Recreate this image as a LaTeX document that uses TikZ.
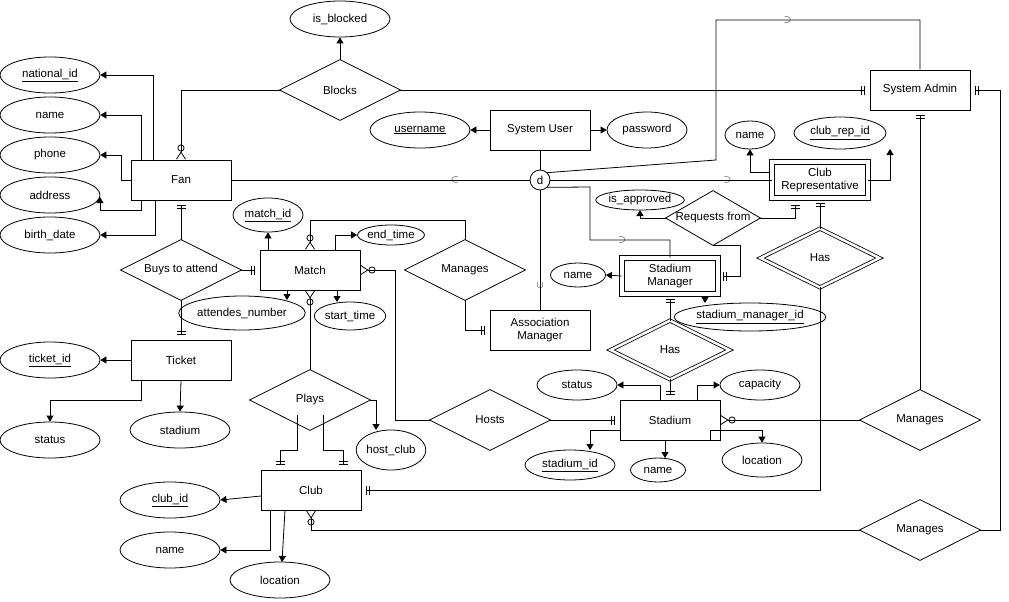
\documentclass[tikz,border=0pt]{standalone}
\usepackage{fontspec}
\setmainfont{Liberation Sans}
\usetikzlibrary{shapes.geometric,arrows.meta}
\newcommand{\keyattr}[1]{\underline{#1}}
\tikzset{
  entity/.style={draw,minimum width=100pt,minimum height=40pt,align=center,inner sep=1pt},
  weak/.style={entity,double,double distance=4pt,minimum width=96pt,minimum height=36pt},
  rel/.style={minimum width=120pt,minimum height=60pt,inner sep=0pt,
    append after command={\pgfextra{\draw (\tikzlastnode.north) -- (\tikzlastnode.east)
      -- (\tikzlastnode.south) -- (\tikzlastnode.west) -- cycle;}}},
  wrel/.style={minimum width=118pt,minimum height=58pt,inner sep=0pt,
    append after command={\pgfextra{\draw[double,double distance=2.5pt] (\tikzlastnode.north) -- (\tikzlastnode.east)
      -- (\tikzlastnode.south) -- (\tikzlastnode.west) -- cycle;}}},
  attr/.style={draw,ellipse,inner sep=0pt},
  one/.style={-{Bar[width=9pt,sep=2pt]Bar[width=9pt,sep=5pt]}},
  many/.style={-{Circle[open,length=7pt,sep=0pt]Straight Barb[reversed,length=7pt,width=9pt]}},
  to/.style={-{Triangle[length=6pt,width=7pt]}},
  isa/.style={font=\normalsize}
}
\begin{document}
\begin{tikzpicture}[x=1pt,y=-1pt,line width=0.8pt,font=\fontsize{11.5}{13}\selectfont]
\useasboundingbox (0,0) rectangle (1009,602);
% entities
\node[entity] (fan) at (181,180) {Fan};
\node[entity] (ticket) at (181,360) {Ticket};
\node[entity] (match) at (310,270) {Match};
\node[entity] (club) at (311,490) {Club};
\node[entity] (user) at (540,130) {System User};
\node[entity] (admin) at (920,90) {System Admin};
\node[weak] (rep) at (820,180) {Club\\Representative};
\node[weak] (smgr) at (670,276) {Stadium\\Manager};
\node[entity] (amgr) at (540,330) {Association\\Manager};
\node[entity] (stadium) at (670,420) {Stadium};
\node[draw,circle,minimum size=20pt,inner sep=0pt] (d) at (540,180) {d};
% relationships
\node[rel] (blocks) at (340,90) {Blocks};
\node[rel] (buys) at (181,270) {Buys to attend};
\node[rel] (mmanages) at (465,270) {Manages};
\node[rel,minimum width=94pt,minimum height=54pt] (requests) at (713,218) {Requests from};
\node[wrel] (rhas) at (820,258) {Has};
\node[wrel] (shas) at (670,350) {Has};
\node[rel] (plays) at (310,400) {Plays};
\node[rel] (hosts) at (490,420) {Hosts};
\node[rel] (smanages) at (920,420) {Manages};
\node[rel] (cmanages) at (920,530) {Manages};
% attributes
\node[attr,minimum width=100pt,minimum height=36pt] (isblocked) at (340,19) {is\_blocked};
\node[attr,minimum width=100pt,minimum height=36pt] (natid) at (50,75) {\keyattr{national\_id}};
\node[attr,minimum width=100pt,minimum height=36pt] (fname) at (50,115) {name};
\node[attr,minimum width=100pt,minimum height=36pt] (phone) at (50,155) {phone};
\node[attr,minimum width=100pt,minimum height=36pt] (address) at (50,195) {address};
\node[attr,minimum width=100pt,minimum height=36pt] (birth) at (50,235) {birth\_date};
\node[attr,minimum width=100pt,minimum height=36pt] (username) at (420,130) {\keyattr{username}};
\node[attr,minimum width=80pt,minimum height=36pt] (password) at (647,130) {password};
\node[attr,minimum width=50pt,minimum height=28pt] (rname) at (750,135) {name};
\node[attr,minimum width=92pt,minimum height=32pt] (repid) at (840,133) {\keyattr{club\_rep\_id}};
\node[attr,minimum width=80pt,minimum height=20pt] (approved) at (640,200) {is\_approved};
\node[attr,minimum width=70pt,minimum height=34pt] (matchid) at (268,215) {\keyattr{match\_id}};
\node[attr,minimum width=60pt,minimum height=20pt] (endt) at (391,235) {end\_time};
\node[attr,minimum width=100pt,minimum height=34pt] (attend) at (242,313) {attendes\_number};
\node[attr,minimum width=60pt,minimum height=28pt] (startt) at (350,316) {start\_time};
\node[attr,minimum width=55pt,minimum height=24pt] (sname) at (578,275) {name};
\node[attr,minimum width=120pt,minimum height=28pt] (smid) at (750,317) {\keyattr{stadium\_manager\_id}};
\node[attr,minimum width=100pt,minimum height=36pt] (ticketid) at (50,360) {\keyattr{ticket\_id}};
\node[attr,minimum width=100pt,minimum height=36pt] (tstatus) at (50,440) {status};
\node[attr,minimum width=100pt,minimum height=36pt] (tstadium) at (180,430) {stadium};
\node[attr,minimum width=80pt,minimum height=30pt] (sstatus) at (577,385) {status};
\node[attr,minimum width=80pt,minimum height=30pt] (capacity) at (760,385) {capacity};
\node[attr,minimum width=90pt,minimum height=30pt] (stadid) at (570,465) {\keyattr{stadium\_id}};
\node[attr,minimum width=55pt,minimum height=24pt] (stname) at (658,470) {name};
\node[attr,minimum width=80pt,minimum height=34pt] (slocation) at (762,460) {location};
\node[attr,minimum width=58pt,minimum height=40pt] (hostclub) at (391,450) {host\_club};
\node[attr,minimum width=100pt,minimum height=36pt] (clubid) at (170,500) {\keyattr{club\_id}};
\node[attr,minimum width=100pt,minimum height=36pt] (cname) at (170,550) {name};
\node[attr,minimum width=100pt,minimum height=36pt] (clocation) at (280,580) {location};
% fan
\draw[many] (blocks.west) -| (fan.north);
\draw[one] (blocks.east) -- (admin.west);
\draw[to] (blocks.north) -- (isblocked.south);
\draw[to] (153,160) |- (natid.east);
\draw[to] (141,160) |- (fname.east);
\draw[to] (fan.west) -- (121,180) |- (phone.east);
\draw[to] (141,200) -- (141,210) -- (100,210) -- (100,197);
\draw[to] (155,200) |- (birth.east);
\draw[one] (buys.north) -- (fan.south);
\draw[one] (buys.south) -- (ticket.north);
\draw[one] (buys.east) -- (match.west);
% ticket
\draw[to] (ticket.west) -- (ticketid.east);
\draw[to] (141,380) -- (141,400) -| (tstatus.north);
\draw[to] (ticket.south) -- (tstadium.north);
% generalisation
\draw (fan.east) -- node[isa,pos=0.75]{$\subset$} (d.west);
\draw (d.north) -- (user.south);
\draw (d.south) -- node[isa,pos=0.8,rotate=-90]{$\supset$} (amgr.north);
\draw (d.east) -- node[isa,pos=0.8]{$\supset$} (rep.west);
\draw (d.south east) -- (590,187) -- (590,240) -- node[isa,pos=0.4]{$\supset$} (670,240) -- (smgr.north);
\draw (d.north east) -- (716,160) -- (716,20) -- node[isa,pos=0.35]{$\supset$} (920,20) -- (admin.north);
\draw[to] (user.west) -- (username.east);
\draw[to] (user.east) -- (password.west);
% match
\draw[to] (268,250) -- (matchid.south);
\draw[to] (335,250) |- (endt.west);
\draw[to] (287,290) -- (287,300);
\draw[to] (337,290) -- (337,302);
\draw[many] (mmanages.north) |- (310,220) -- (match.north);
\draw[one] (mmanages.south) |- (amgr.west);
\draw[many] (hosts.west) -| (395,270) -- (match.east);
\draw[one] (hosts.east) -- (stadium.west);
\draw[many] (plays.north) -- (match.south);
\draw[one] (297,415) -- (297,450) -| (280,470);
\draw[one] (323,415) -- (323,450) -| (343,470);
\draw[to] (plays.east) -| (376,430);
% club
\draw[to] (261,496) -- (clubid.east);
\draw[to] (270,510) |- (cname.east);
\draw[to] (285,510) -- (282,562);
\draw[one] (rhas.south) |- (club.east);
\draw[one] (rhas.north) -- (rep.south);
\draw[many] (cmanages.west) -- (311,530) -- (club.south);
\draw[one] (cmanages.east) -- (1000,530) |- (admin.east);
% stadium
\draw[many] (smanages.west) -- (stadium.east);
\draw[one] (smanages.north) -- (admin.south);
\draw[to] (660,400) |- (sstatus.east);
\draw[to] (697,400) |- (capacity.west);
\draw[to] (620,430) -| (590,450);
\draw[to] (665,440) -- (665,458);
\draw[to] (710,440) |- (762,430) -- (slocation.north);
\draw[one] (shas.south) -- (stadium.north);
\draw[one] (shas.north) -- (smgr.south);
% stadium manager and club representative
\draw[to] (smgr.west) -- (sname.east);
\draw[to] (705,296) -- (705,303);
\draw[one] (requests.south) -| (740,276) -- (smgr.east);
\draw[one] (requests.east) -| (795,200);
\draw[to] (requests.west) -| (640,210);
\draw[to] (770,172) -| (rname.south);
\draw[to] (rep.east) -| (890,149);
\end{tikzpicture}
\end{document}
